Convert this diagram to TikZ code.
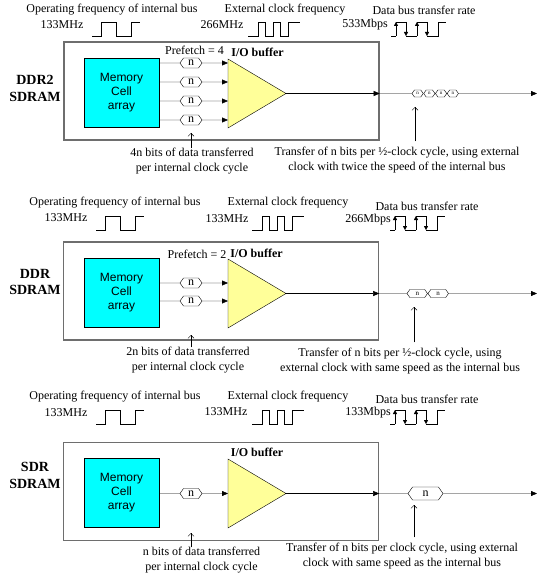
\documentclass[tikz,border=0pt]{standalone}
\usepackage{fontspec}
\setmainfont{Liberation Serif}
\setsansfont{Liberation Sans}
\usepackage{tikz}
\usetikzlibrary{positioning}
\usetikzlibrary{arrows.meta}
\usetikzlibrary{shapes.symbols}
\definecolor{cellcyan}{RGB}{0,255,255}
\definecolor{bufyellow}{RGB}{255,255,153}
\definecolor{framegray}{RGB}{110,110,110}
\tikzset{x=1pt, y=-1pt, line width=0.9pt,
every node/.style={ % plain text everywhere
inner sep=0pt,
font=\fontsize{12}{15}\selectfont},
chip/.style={ % gray frame round one SDRAM
draw=framegray, line width=1.4pt,
minimum width=315pt, minimum height=98pt},
cell/.style={draw, fill=cellcyan, align=center,
minimum width=75pt, minimum height=69pt,
font=\sffamily\fontsize{12}{14}\selectfont},
buffer/.style={draw, fill=bufyellow},
word/.style={ % data word on a bus
draw, fill=white, signal, signal to=west and east,
signal pointer angle=110,
minimum width=22pt, minimum height=10pt},
title/.style={align=center, font=\bfseries\fontsize{14}{16.5}\selectfont},
bold/.style={font=\bfseries\fontsize{12}{15}\selectfont},
feed/.style={-{Triangle[length=6pt,width=5pt]}},
pointer/.style={-{Straight Barb[length=3pt,width=6pt]}},
clkedge/.style={-{Triangle[length=4pt,width=4pt]}}}
% square waves, started at their low left end
\newcommand\slowclk[2]{\draw (#1,#2) -- ++(9,0) -- ++(0,-14) -- ++(15,0) -- ++(0,14)
 -- ++(15,0) -- ++(0,-14) -- ++(9,0);}
\newcommand\fastclk[2]{\draw (#1,#2) -- ++(10,0) -- ++(0,-14) -- ++(7.5,0) -- ++(0,14)
 -- ++(7.5,0) -- ++(0,-14) -- ++(7.5,0) -- ++(0,14) -- ++(7.5,0) -- ++(0,-14) -- ++(12,0);}
\newcommand\dataclk[2]{\draw (#1,#2) -- ++(5,0) ++(0,-14) -- ++(10,0) ++(0,14) -- ++(11,0)
 ++(0,-14) -- ++(10,0) ++(0,14) -- ++(11,0) -- ++(0,-14) -- ++(8,0);
\draw[clkedge] (#1+5,#2) -- ++(0,-14);
\draw[clkedge] (#1+15,#2-14) -- ++(0,14);
\draw[clkedge] (#1+26,#2) -- ++(0,-14);
\draw[clkedge] (#1+36,#2-14) -- ++(0,14);}

\begin{document}
\begin{tikzpicture}
\useasboundingbox (0,0) rectangle (542,580);
% DDR2
\node (opf1) at (112,10) {Operating frequency of internal bus};
\node (ecf1) at (285,10) {External clock frequency};
\node (dbr1) at (424,10) {Data bus transfer rate};
\node (int1) at (62,25) {133MHz};
\node (ext1) at (222,25) {266MHz};
\node (rate1) at (365,25) {533Mbps};
\slowclk{92}{36} \fastclk{248}{36} \dataclk{391}{36}
\node[chip] (box1) at (221.5,91) {};
\node[title] (ram1) at (35,88.5) {DDR2\\SDRAM};
\node[cell] (mem1) at (121.5,92.5) {Memory\\Cell\\array};
\coordinate (buf1) at (228,93.5);
\draw[buffer] (buf1) ++(0,-34.5) -- ++(58,34.5) coordinate (tip1) -- ++(-58,34.5) -- cycle;
\node (pre1) at (194.5,50) {Prefetch = 4};
\node[bold] (io1) at (257.5,52) {I/O buffer};
\foreach \i/\y in {a/63,b/82,c/101,d/120}{
  \node[word] (w1\i) at (191,\y) {n};
  \draw (mem1.east |- w1\i) -- (w1\i);
  \draw[feed] (w1\i) -- (w1\i -| buf1);
}
\draw[feed] (tip1) -- (tip1 -| box1.east);
\node[word, minimum width=11.25pt, minimum height=7pt, font=\fontsize{5}{5}\selectfont] (s1a) at (417.6,93.5) {n};
\node[word, minimum width=11.25pt, minimum height=7pt, font=\fontsize{5}{5}\selectfont, right=0pt of s1a] (s1b) {n};
\node[word, minimum width=11.25pt, minimum height=7pt, font=\fontsize{5}{5}\selectfont, right=0pt of s1b] (s1c) {n};
\node[word, minimum width=11.25pt, minimum height=7pt, font=\fontsize{5}{5}\selectfont, right=0pt of s1c] (s1d) {n};
\coordinate (end1) at (537,93.5);
\draw (tip1 -| box1.east) -- (s1a);
\draw[feed] (s1d) -- (end1);
\node[align=center] (tl1) at (192,161.5) {4n bits of data transferred\\per internal clock cycle};
\coordinate (p1) at (191,133);
\draw[pointer] (p1 |- tl1.north) -- (p1);
\node[align=center] (tr1) at (397,160.5) {Transfer of n bits per ½-clock cycle, using external\\clock with twice the speed of the internal bus};
\coordinate (q1) at (415,107);
\draw[pointer, shorten <=6pt] (q1 |- tr1.north) -- (q1);
% DDR
\node (opf2) at (115,203) {Operating frequency of internal bus};
\node (ecf2) at (288,203) {External clock frequency};
\node (dbr2) at (427,206) {Data bus transfer rate};
\node (int2) at (66,218) {133MHz};
\node (ext2) at (227,219) {133MHz};
\node (rate2) at (368,220) {266Mbps};
\slowclk{96}{230} \fastclk{252}{230} \dataclk{390}{230}
\node[chip] (box2) at (221,291) {};
\node[title] (ram2) at (35,282) {DDR\\SDRAM};
\node[cell] (mem2) at (121.5,292.5) {Memory\\Cell\\array};
\coordinate (buf2) at (228,293.5);
\draw[buffer] (buf2) ++(0,-34.5) -- ++(58,34.5) coordinate (tip2) -- ++(-58,34.5) -- cycle;
\node (pre2) at (197,254) {Prefetch = 2};
\node[bold] (io2) at (256.5,253) {I/O buffer};
\foreach \i/\y in {a/283,b/301}{
  \node[word] (w2\i) at (191,\y) {n};
  \draw (mem2.east |- w2\i) -- (w2\i);
  \draw[feed] (w2\i) -- (w2\i -| buf2);
}
\draw[feed] (tip2) -- (tip2 -| box2.east);
\node[word, minimum width=20.5pt, minimum height=8pt, font=\fontsize{7}{7}\selectfont] (s2a) at (417.25,293.5) {n};
\node[word, minimum width=20.5pt, minimum height=8pt, font=\fontsize{7}{7}\selectfont, right=0pt of s2a] (s2b) {n};
\coordinate (end2) at (537,293.5);
\draw (tip2 -| box2.east) -- (s2a);
\draw[feed] (s2b) -- (end2);
\node[align=center] (tl2) at (188,360.5) {2n bits of data transferred\\per internal clock cycle};
\coordinate (p2) at (191,335);
\draw[pointer] (p2 |- tl2.north) -- (p2);
\node[align=center] (tr2) at (400,361.5) {Transfer of n bits per ½-clock cycle, using\\external clock with same speed as the internal bus};
\coordinate (q2) at (414,307);
\draw[pointer, shorten <=6pt] (q2 |- tr2.north) -- (q2);
% SDR
\node (opf3) at (115,397) {Operating frequency of internal bus};
\node (ecf3) at (288,397) {External clock frequency};
\node (dbr3) at (427,399) {Data bus transfer rate};
\node (int3) at (66,413) {133MHz};
\node (ext3) at (226,412) {133MHz};
\node (rate3) at (368,413) {133Mbps};
\slowclk{96}{424} \fastclk{252}{424} \dataclk{390}{424}
\node[chip] (box3) at (221,491.5) {};
\node[title] (ram3) at (35,475.5) {SDR\\SDRAM};
\node[cell] (mem3) at (121.5,492.5) {Memory\\Cell\\array};
\coordinate (buf3) at (228,493.5);
\draw[buffer] (buf3) ++(0,-34.5) -- ++(58,34.5) coordinate (tip3) -- ++(-58,34.5) -- cycle;
\node[bold] (io3) at (257,452) {I/O buffer};
\node[word] (w3a) at (191,493.5) {n};
\draw (mem3.east |- w3a) -- (w3a);
\draw[feed] (w3a) -- (w3a -| buf3);
\draw[feed] (tip3) -- (tip3 -| box3.east);
\node[word, minimum width=35pt, minimum height=13pt] (s3a) at (425.5,493.5) {n};
\coordinate (end3) at (537,493.5);
\draw (tip3 -| box3.east) -- (s3a);
\draw[feed] (s3a) -- (end3);
\node[align=center] (tl3) at (201.5,560.5) {n bits of data transferred\\per internal clock cycle};
\coordinate (p3) at (191,533);
\draw[pointer] (p3 |- tl3.north) -- (p3);
\node[align=center] (tr3) at (402,556.5) {Transfer of n bits per clock cycle, using external\\clock with same speed as the internal bus};
\coordinate (q3) at (414,505);
\draw[pointer, shorten <=6pt] (q3 |- tr3.north) -- (q3);
\end{tikzpicture}
\end{document}
